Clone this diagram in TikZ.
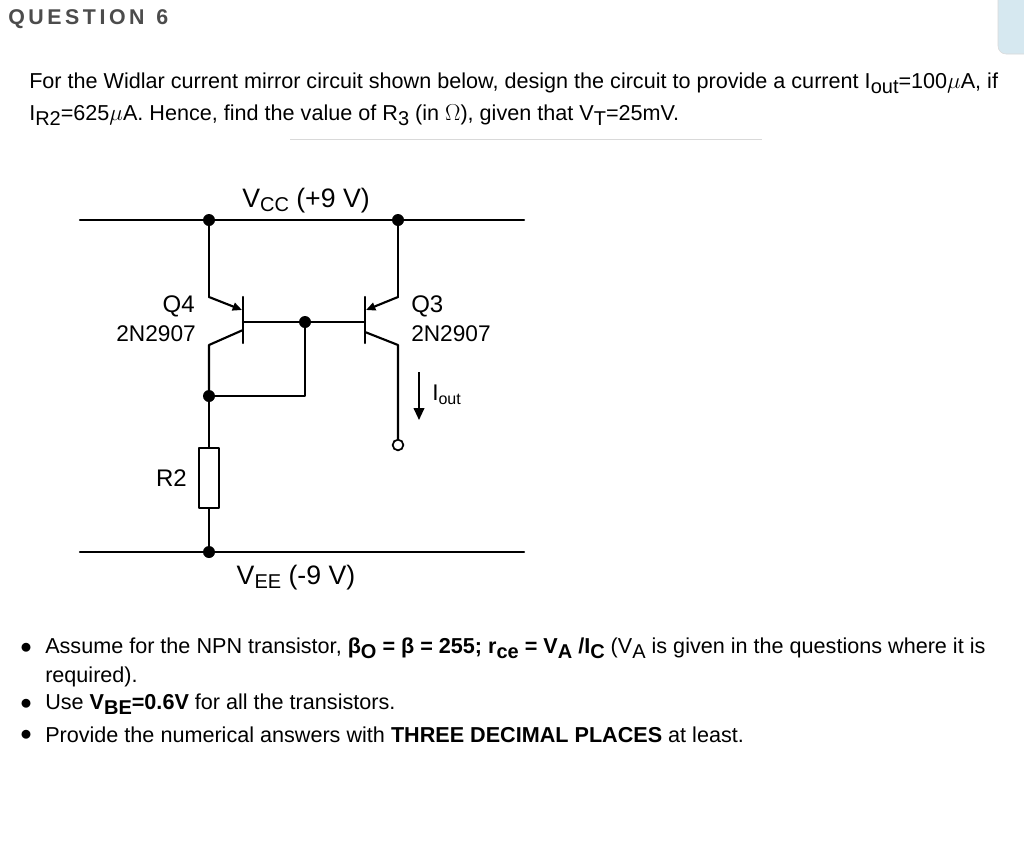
\documentclass[tikz,border=0pt]{standalone}
\usepackage{fontspec}
\setmainfont{Liberation Sans}
\usetikzlibrary{arrows.meta}
\newcommand{\sbx}[1]{\raisebox{-3.5pt}{\fontsize{15}{16}\selectfont #1}}
\begin{document}
\begin{tikzpicture}[x=0.75pt,y=-0.75pt,
 w/.style={line width=1.6pt,line cap=round,line join=round},
 dot/.style={circle,fill,inner sep=0pt,minimum size=9pt},
 lbl/.style={font=\fontsize{16}{19}\selectfont,inner sep=0pt},
 txt/.style={font=\fontsize{16.2}{18}\selectfont,anchor=west,inner sep=0pt},
 em/.style={-{Triangle[length=7pt,width=6pt]}}]
\useasboundingbox (0,0) rectangle (1024,864);
\fill[white] (0,0) rectangle (1024,864);
\definecolor{boxc}{RGB}{214,232,240}
\filldraw[fill=boxc, draw=gray!30, rounded corners=6pt] (998,-10) rectangle (1034,54);
\node[txt,font=\bfseries\fontsize{16}{18}\selectfont,text=black!70,anchor=west] (q) at (8,19) {Q\,U\,E\,S\,T\,I\,O\,N\; 6};
\node[txt] (t1) at (29,83) {For the Widlar current mirror circuit shown below, design the circuit to provide a current I\sbx{out}=100$\mu$A, if};
\node[txt] (t2) at (29,115) {I\sbx{R2}=625$\mu$A. Hence, find the value of R\sbx{3} (in $\Omega$), given that V\sbx{T}=25mV.};
\draw[gray!30] (290,139) -- (762,139);
\coordinate (vl) at (80,220); \coordinate (vr) at (524,220);
\node[dot] (d1) at (209,220) {}; \node[dot] (d2) at (398,220) {};
\draw[w] (vl) -- (vr);
\node[dot] (db) at (305,322) {};
\node[dot] (dc) at (209,396) {};
\node[draw,circle,inner sep=0pt,minimum size=8pt,line width=1.3pt] (term) at (398,445) {};
\node[draw,w,minimum width=15pt,minimum height=45pt,inner sep=0pt] (r2) at (209,478) {};
\coordinate (el) at (80,552); \coordinate (er) at (524,552);
\node[dot] (d3) at (209,552) {};
\draw[w] (el) -- (er);
% Q4
\draw[w] (243,297) -- (243,343);
\draw[w] (d1) -- (209,297);
\draw[w,em] (209,297) -- (242,310);
\draw[w] (243,330) -- (209,345) -- (dc);
\draw[w] (243,322) -- (365,322);
\draw[w] (db) -- (305,396) -- (dc);
\draw[w] (dc) -- (r2.north); \draw[w] (r2.south) -- (d3);
% Q3
\draw[w] (365,297) -- (365,343);
\draw[w] (d2) -- (398,297);
\draw[w,em] (398,297) -- (366,310);
\draw[w] (365,332) -- (398,345) -- (term);
\draw[line width=1.4pt,-{Triangle[length=9pt,width=8pt]}] (419,372) -- (419,420);
% labels
\node[lbl,font=\fontsize{20}{24}\selectfont] (vcc) at (306,201) {V{\fontsize{15}{18}\selectfont\raisebox{-3pt}{CC}} (+9 V)};
\node[lbl,font=\fontsize{20}{24}\selectfont] (vee) at (296,578) {V{\fontsize{15}{18}\selectfont\raisebox{-3pt}{EE}} (-9 V)};
\node[lbl,font=\fontsize{18}{22}\selectfont,anchor=east] at (195,306) {Q4};
\node[lbl,font=\fontsize{17}{22}\selectfont,anchor=east] at (196,334) {2N2907};
\node[lbl,font=\fontsize{18}{22}\selectfont,anchor=west] at (411,306) {Q3};
\node[lbl,font=\fontsize{17}{22}\selectfont,anchor=west] at (411,334) {2N2907};
\node[lbl,font=\fontsize{17}{22}\selectfont,anchor=west] at (432,395) {I{\fontsize{12}{14}\selectfont\raisebox{-3pt}{out}}};
\node[lbl,font=\fontsize{18}{22}\selectfont,anchor=east] at (187,478) {R2};
% bullets
\node[txt] (b1) at (20,648) {$\bullet$};
\node[txt] (b1t) at (45,648) {Assume for the NPN transistor, \textbf{β\sbx{O} = β = 255; r\sbx{ce} = V\sbx{A} /I\sbx{C}} (V\sbx{A} is given in the questions where it is};
\node[txt] (b1u) at (45,677) {required).};
\node[txt] (b2) at (20,704) {$\bullet$};
\node[txt] (b2t) at (45,704) {Use \textbf{V\sbx{BE}=0.6V} for all the transistors.};
\node[txt] (b3) at (20,735) {$\bullet$};
\node[txt] (b3t) at (45,735) {Provide the numerical answers with \textbf{THREE DECIMAL PLACES} at least.};
\end{tikzpicture}
\end{document}
